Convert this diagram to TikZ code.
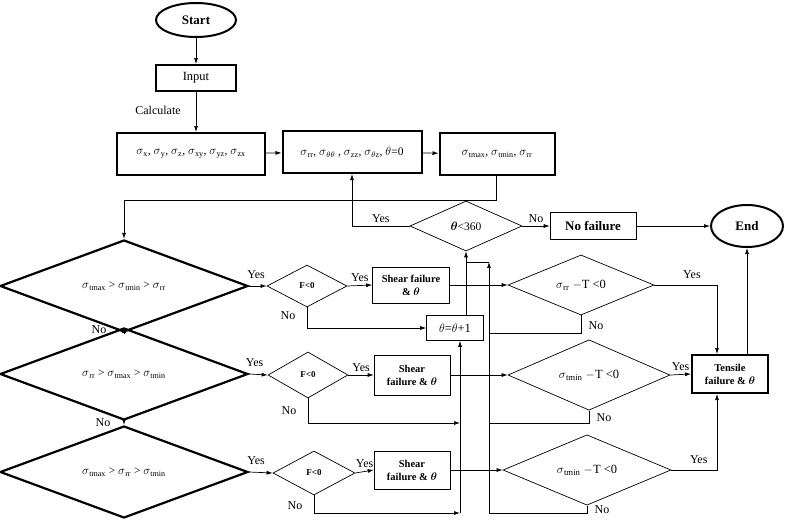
\documentclass[tikz,border=0pt]{standalone}
\usepackage{amsmath}
\usepackage{fontspec}
\setmainfont{Liberation Serif}
\usetikzlibrary{shapes.geometric,arrows.meta}
\newcommand{\sig}[1]{$\sigma$\textsubscript{#1}}
\begin{document}
\begin{tikzpicture}[x=1pt,y=-1pt,font=\fontsize{11.5}{13}\selectfont,
  box/.style={draw,line width=0.6pt,align=center,inner sep=1pt},
  tbox/.style={box,line width=2pt},
  term/.style={draw,ellipse,line width=2pt,font=\fontsize{13}{14}\selectfont\bfseries,inner sep=0pt},
  dia/.style={draw,diamond,line width=0.7pt,inner sep=0pt},
  bdia/.style={dia,line width=2.2pt},
  arr/.style={-{Latex[length=6pt,width=4pt]},line width=0.7pt},
  ln/.style={line width=0.7pt},
  lab/.style={font=\fontsize{12}{13}\selectfont}]
\useasboundingbox (0,0) rectangle (785,520);
% top column
\node[term,minimum width=80,minimum height=34] (start) at (196,20) {Start};
\node[tbox,minimum width=80,minimum height=26,font=\fontsize{12.5}{14}\selectfont] (input) at (196,78) {Input};
\node[lab] (calc) at (158,110) {Calculate};
\node[tbox,minimum width=148,minimum height=42] (b1) at (191,154) {\sig{x}, \sig{y}, \sig{z}, \sig{xy}, \sig{yz}, \sig{zx}};
\node[tbox,minimum width=139,minimum height=42] (b2) at (352,152) {\sig{rr}, \sig{$\theta\theta$} , \sig{zz}, \sig{$\theta$z}, $\theta$=0};
\node[tbox,minimum width=115,minimum height=42] (b3) at (497,154) {\sig{tmax}, \sig{tmin}, \sig{rr}};
\coordinate (c1) at (496,200);
\coordinate (c2) at (124,200);
% loop check
\node[dia,minimum width=112,minimum height=50] (q) at (466,226) {$\boldsymbol{\theta}$<360};
\node[box,minimum width=86,minimum height=27,font=\fontsize{13}{14}\selectfont\bfseries] (nf) at (593,226) {No failure};
\node[term,minimum width=72,minimum height=42] (end) at (747,226) {End};
% left decisions
\node[bdia,minimum width=248,minimum height=72] (d1) at (124,286) {\sig{tmax} > \sig{tmin} > \sig{rr}};
\node[bdia,minimum width=248,minimum height=64] (d2) at (124,374) {\sig{rr} > \sig{tmax} > \sig{tmin}};
\node[bdia,minimum width=248,minimum height=64] (d3) at (124,472) {\sig{tmax} > \sig{rr} > \sig{tmin}};
% shear checks
\node[dia,minimum width=80,minimum height=42,font=\fontsize{9}{10}\selectfont\bfseries] (f1) at (307,286) {F<0};
\node[dia,minimum width=80,minimum height=46,font=\fontsize{9}{10}\selectfont\bfseries] (f2) at (308,375) {F<0};
\node[dia,minimum width=82,minimum height=44,font=\fontsize{9}{10}\selectfont\bfseries] (f3) at (314,473) {F<0};
\node[box,minimum width=77,minimum height=36,font=\fontsize{10.5}{13}\selectfont\bfseries] (s1) at (411,285) {Shear failure\\\& $\boldsymbol{\theta}$};
\node[box,minimum width=76,minimum height=40,font=\fontsize{10.5}{13}\selectfont\bfseries] (s2) at (412,375) {Shear\\failure \& $\boldsymbol{\theta}$};
\node[box,minimum width=76,minimum height=38,font=\fontsize{10.5}{13}\selectfont\bfseries] (s3) at (412,470) {Shear\\failure \& $\boldsymbol{\theta}$};
\node[box,minimum width=57,minimum height=25,font=\fontsize{12.5}{14}\selectfont] (inc) at (455,328) {$\theta$=$\theta$+1};
% tensile checks
\node[dia,minimum width=146,minimum height=56,font=\fontsize{12.5}{14}\selectfont] (r1) at (581,285) {\sig{rr} $-$T <0};
\node[dia,minimum width=162,minimum height=54,font=\fontsize{12.5}{14}\selectfont] (r2) at (589,375) {\sig{tmin} $-$T <0};
\node[dia,minimum width=168,minimum height=54,font=\fontsize{12.5}{14}\selectfont] (r3) at (587,470) {\sig{tmin} $-$T <0};
\node[tbox,minimum width=76,minimum height=38,font=\fontsize{10.5}{13}\selectfont\bfseries] (tf) at (730,374) {Tensile\\failure \& $\boldsymbol{\theta}$};
\coordinate (tx) at (717,0);
% connectors
\draw[arr] (start) -- (input);
\draw[arr] (input) -- (input|-b1.north);
\draw[arr] (b1) -- (b2);
\draw[arr] (b2) -- (b3);
\draw[arr] (b3.south-|c1) -- (c1) -- (c2) -- (d1.north);
\draw[arr] (q.west) -| (b2.south) node[pos=0.25,above,lab] {Yes};
\draw[arr] (q.east) -- (nf.west) node[midway,above,lab] {No};
\draw[arr] (nf) -- (end);
\draw[arr] (d1) -- (d2) node[midway,left,lab,xshift=-14pt] {No};
\draw[arr] (d2) -- (d3) node[midway,left,lab,xshift=-10pt] {No};
\draw[arr] (d1.east) -- (f1.west) node[pos=0.4,above,lab,yshift=4pt] {Yes};
\draw[arr] (d2.east) -- (f2.west) node[pos=0.3,above,lab,yshift=4pt] {Yes};
\draw[arr] (d3.east) -- (f3.west) node[pos=0.3,above,lab,yshift=4pt] {Yes};
\draw[arr] (f1.east) -- (s1.west) node[midway,above,lab] {Yes};
\draw[arr] (f2.east) -- (s2.west) node[midway,above,lab] {Yes};
\draw[arr] (f3.east) -- (s3.west) node[midway,above,lab] {Yes};
\draw[arr] (s1.east) -- (r1.west);
\draw[arr] (s2.east) -- (r2.west);
\draw[arr] (s3.east) -- (r3.west);
% shear No paths to theta increment
\coordinate (v1) at (460,423);
\coordinate (v2) at (460,513);
\draw[arr] (f1.south) |- (inc.west) node[pos=0.2,left,lab,xshift=-8pt] {No};
\draw[arr] (f2.south) |- (v1) node[pos=0.25,left,lab,xshift=-8pt] {No};
\draw[arr] (f3.south) |- (v2) node[pos=0.3,left,lab,xshift=-8pt] {No};
\draw[arr] (v2) -- (v2|-inc.south);
\draw[arr] (inc.north-|q.south) -- (q.south);
% tensile No paths back to loop
\coordinate (w0) at (489,262);
\coordinate (w3) at (489,513);
\draw[ln] (r1.south) |- (489,333) node[pos=0.3,right,lab,xshift=4pt] {No};
\draw[ln] (r2.south) |- (489,423) node[pos=0.3,right,lab,xshift=4pt] {No};
\draw[ln] (r3.south) |- (w3) node[pos=0.3,right,lab,xshift=4pt] {No};
\draw[arr] (w3) -- (w0);
\draw[ln] (w0) -- (w0-|q.south);
% tensile yes paths
\draw[arr] (r1.east) -| (tx|-tf.north) node[pos=0.3,above,lab,yshift=3pt] {Yes};
\draw[arr] (r2.east) -- (tf.west) node[midway,above,lab] {Yes};
\draw[arr] (r3.east) -| (tx|-tf.south) node[pos=0.3,above,lab,yshift=3pt] {Yes};
\draw[arr] (tf.north-|end) -- (end.south);
\end{tikzpicture}
\end{document}
